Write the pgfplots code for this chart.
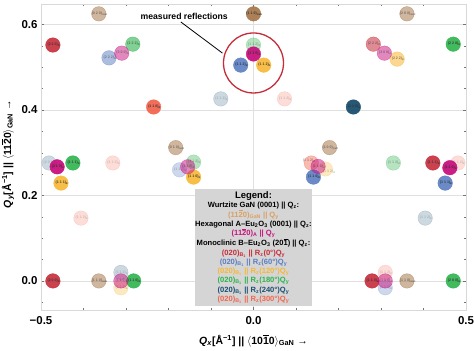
\documentclass[border=0pt]{standalone}
\usepackage{pgfplots}
\pgfplotsset{compat=1.18}
\usepackage{fontspec}
\setmainfont{Liberation Sans}
\definecolor{gan}{HTML}{A87A4E}
\definecolor{ganleg}{HTML}{D9A066}
\definecolor{hexa}{HTML}{C8127E}
\definecolor{rzA}{HTML}{C72C3B}
\definecolor{rzB}{HTML}{5A7DC2}
\definecolor{rzC}{HTML}{F7B733}
\definecolor{rzD}{HTML}{2EB34D}
\definecolor{rzE}{HTML}{1B5070}
\definecolor{rzF}{HTML}{F2664F}
\definecolor{legbg}{HTML}{D5D5D5}
\newcommand\ob[1]{\ensuremath{\overline{\mbox{#1}}}}
\pgfplotsset{
  pt/.style 2 args={only marks, mark=*, mark size=7.3pt, color=#1,
    mark options={fill opacity=#2, draw opacity=#2},
    point meta=explicit symbolic, nodes near coords,
    nodes near coords align={center},
    every node near coord/.style={font=\fontsize{3.6}{3.6}\selectfont\bfseries,
      text=black!80, text opacity=#2, anchor=center, inner sep=0pt, xshift=1pt}},
}
\begin{document}
\begin{tikzpicture}
\begin{axis}[
  scale only axis, width=425bp, height=306bp,
  xmin=-0.5, xmax=0.5, ymin=-0.068, ymax=0.648,
  xtick={-0.5,0,0.5}, xticklabels={−0.5,0.0,0.5},
  minor xtick={-0.4,-0.3,-0.2,-0.1,0.1,0.2,0.3,0.4},
  ytick={0,0.2,0.4,0.6}, yticklabels={0.0,0.2,0.4,0.6},
  minor ytick={-0.05,0.05,0.1,0.15,0.25,0.3,0.35,0.45,0.5,0.55},
  xmajorgrids, ymajorgrids,
  major grid style={black!12, line width=0.6pt},
  axis line style={black!15},
  tick style={black!55, line width=0.4pt},
  major tick length=3pt, minor tick length=2pt,
  ticklabel style={font=\bfseries\fontsize{11.5}{13}\selectfont},
  xticklabel style={yshift=-3bp},
  label style={font=\bfseries\fontsize{10.5}{12}\selectfont},
  xlabel style={at={(axis description cs:0.5,0)}, anchor=center, yshift=-31bp},
  ylabel style={at={(axis description cs:0,0.51)}, anchor=center, yshift=33bp},
  xlabel={\textit{Q}\textsubscript{\textit{x}}[Å\textsuperscript{−1}] || $\langle$10\ob{1}0$\rangle$\textsubscript{GaN} →},
  ylabel={\textit{Q}\textsubscript{\textit{y}}[Å\textsuperscript{−1}] || $\langle$11\ob{2}0$\rangle$\textsubscript{GaN} →},
  clip marker paths=true,
]
% GaN
\addplot[pt={gan}{0.55}] coordinates {(-0.364,0.625)[(0 2 0)\textsubscript{GaN}] (0.361,0.625)[(2 0 0)\textsubscript{GaN}] (-0.183,0.312)[(0 1 0)\textsubscript{GaN}] (0.179,0.312)[(1 0 0)\textsubscript{GaN}] (-0.364,0)[(1 1 0)\textsubscript{GaN}] (0.361,0)[(1 1 0)\textsubscript{GaN}]};
\addplot[pt={gan}{0.95}] coordinates {(0,0.625)[(1 1 0)\textsubscript{GaN}]};
% salmon R300 faint
\addplot[pt={rzF}{0.22}] coordinates {(0.073,0.426)[(1 1 2)\textsubscript{B}] (-0.331,0.276)[(1 1 2)\textsubscript{B}] (-0.406,0.147)[(1 1 2)\textsubscript{B}] (0.481,0.276)[(1 1 2)\textsubscript{B}] (0.31,0.02)[(1 1 2)\textsubscript{B}]};
\addplot[pt={rzF}{0.45}, every node near coord/.append style={xshift=-3pt, yshift=2.5pt}] coordinates {(0.136,0.276)[(1 1 2)\textsubscript{B}]};
\addplot[pt={rzF}{0.95}] coordinates {(-0.235,0.407)[(1 1 0)\textsubscript{B}]};
% teal R240
\addplot[pt={rzE}{0.22}] coordinates {(-0.077,0.426)[(1 1 2)\textsubscript{B}] (0.404,0.147)[(1 1 2)\textsubscript{B}] (-0.481,0.276)[(2 0 0)\textsubscript{B}] (-0.312,0.02)[(1 1 2)\textsubscript{B}]};
\addplot[pt={rzE}{0.95}] coordinates {(0.235,0.407)[(1 1 0)\textsubscript{B}]};
% green R180
\addplot[pt={rzD}{0.35}] coordinates {(0,0.552)[(1 1 2)\textsubscript{B}] (0.329,0.276)[(1 1 2)\textsubscript{B}] (-0.141,0.278)[(1 1 2)\textsubscript{B}]};
\addplot[pt={rzD}{0.6}] coordinates {(-0.284,0.554)[(2 2 2)\textsubscript{B}]};
\addplot[pt={rzD}{0.9}] coordinates {(-0.425,0.276)[(1 1 1)\textsubscript{B}] (0.47,0.554)[(2 2 0)\textsubscript{B}] (-0.282,0)[(1 1 0)\textsubscript{B}] (0.47,0)[(2 0 0)\textsubscript{B}]};
% yellow R120
\addplot[pt={rzC}{0.3}] coordinates {(-0.312,-0.016)[(1 1 2)\textsubscript{B}]};
\addplot[pt={rzC}{0.3}, every node near coord/.append style={xshift=3pt, yshift=-3pt}] coordinates {(0.169,0.262)[(1 1 2)\textsubscript{B}]};
\addplot[pt={rzC}{0.55}] coordinates {(0.338,0.519)[(2 2 2)\textsubscript{B}] (-0.385,0.652)[(2 2 0)\textsubscript{B}]};
\addplot[pt={rzC}{0.9}] coordinates {(0.024,0.505)[(1 1 2)\textsubscript{B}] (-0.453,0.229)[(1 1 1)\textsubscript{B}] (-0.141,0.243)[(1 1 0)\textsubscript{B}]};
% blue R60
\addplot[pt={rzB}{0.3}] coordinates {(-0.174,0.26)[(1 1 2)\textsubscript{B}] (0.31,-0.016)[(1 1 2)\textsubscript{B}]};
\addplot[pt={rzB}{0.5}] coordinates {(-0.34,0.522)[(2 2 2)\textsubscript{B}] (0.376,0.652)[(2 2 0)\textsubscript{B}]};
\addplot[pt={rzB}{0.9}] coordinates {(-0.03,0.505)[(1 1 2)\textsubscript{B}] (0.451,0.229)[(1 1 1)\textsubscript{B}] (0.141,0.243)[(1 1 0)\textsubscript{B}]};
% red R0
\addplot[pt={rzA}{0.55}] coordinates {(0.282,0.554)[(2 2 2)\textsubscript{B}]};
\addplot[pt={rzA}{0.9}] coordinates {(-0.472,0.552)[(2 2 0)\textsubscript{B}] (-0.472,0)[(2 0 0)\textsubscript{B}] (0.422,0.276)[(1 1 1)\textsubscript{B}] (0.279,0)[(1 1 0)\textsubscript{B}]};
% hexagonal A
\addplot[pt={hexa}{0.5}] coordinates {(-0.31,0.533)[(3 0 0)\textsubscript{A}] (0.308,0.533)[(3 0 0)\textsubscript{A}] (-0.155,0.267)[(1 1 0)\textsubscript{A}] (0.152,0.268)[(1 1 0)\textsubscript{A}] (-0.312,0)[(1 1 0)\textsubscript{A}] (0.31,0)[(1 1 0)\textsubscript{A}]};
\addplot[pt={hexa}{0.95}] coordinates {(0,0.531)[(1 1 0)\textsubscript{A}] (-0.462,0.267)[(2 1 0)\textsubscript{A}] (0.462,0.265)[(1 2 0)\textsubscript{A}]};
% annotations
\draw[color=rzA, line width=1.3pt] (axis cs:0,0.51) circle[radius=30bp];
\draw[black, line width=0.8pt] (axis cs:-0.171,0.606) -- (axis cs:-0.073,0.533);
\node[font=\bfseries\fontsize{8.7}{9}\selectfont] at (axis cs:-0.163,0.619) {measured reflections};
\node[fill=legbg, minimum width=112bp, minimum height=117bp, inner sep=0pt, align=center,
  font=\bfseries\fontsize{7.6}{9.3}\selectfont] at (axis cs:0,0.078) {%
  {\fontsize{9.5}{9}\selectfont Legend:}\\
  Wurtzite GaN (0001) || Q\textsubscript{z}:\\
  {\color{ganleg}(11\ob{2}0)\textsubscript{GaN} || Q\textsubscript{y}}\\
  Hexagonal A--Eu\textsubscript{2}O\textsubscript{3} (0001) || Q\textsubscript{z}:\\
  {\color{hexa}(11\ob{2}0)\textsubscript{A} || Q\textsubscript{y}}\\
  Monoclinic B--Eu\textsubscript{2}O\textsubscript{3} (20\ob{1}) || Q\textsubscript{z}:\\
  {\color{rzA}(020)\textsubscript{B\textsubscript{1}} || R\textsubscript{z}(0°)Q\textsubscript{y}}\\
  {\color{rzB}(020)\textsubscript{B\textsubscript{1}} || R\textsubscript{z}(60°)Q\textsubscript{y}}\\
  {\color{rzC}(020)\textsubscript{B\textsubscript{1}} || R\textsubscript{z}(120°)Q\textsubscript{y}}\\
  {\color{rzD}(020)\textsubscript{B\textsubscript{1}} || R\textsubscript{z}(180°)Q\textsubscript{y}}\\
  {\color{rzE}(020)\textsubscript{B\textsubscript{1}} || R\textsubscript{z}(240°)Q\textsubscript{y}}\\
  {\color{rzF}(020)\textsubscript{B\textsubscript{1}} || R\textsubscript{z}(300°)Q\textsubscript{y}}};
\end{axis}
\pgfresetboundingbox
\path ([xshift=-41bp,yshift=-41bp]current axis.south west) rectangle ([xshift=8bp,yshift=4bp]current axis.north east);
\end{tikzpicture}
\end{document}
